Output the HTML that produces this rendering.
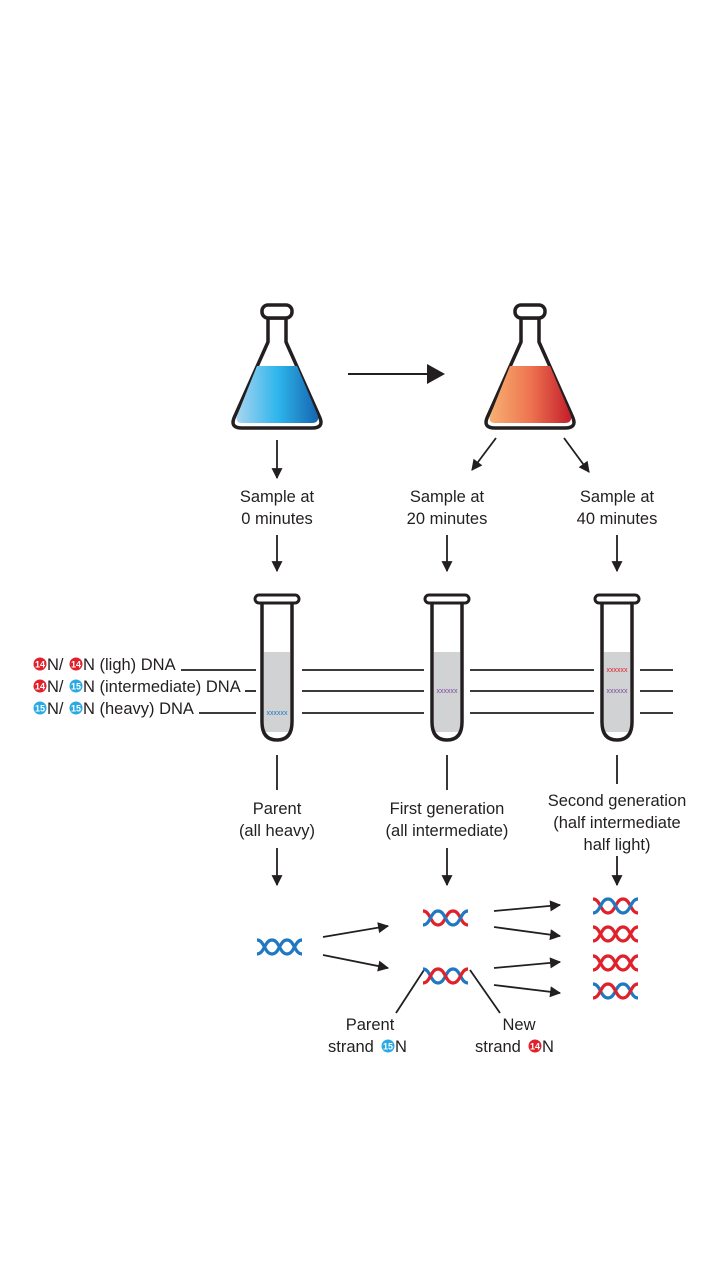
<!DOCTYPE html>
<html><head><meta charset="utf-8"><style>
html,body{margin:0;padding:0;background:#fff}
svg{display:block}
text{font-family:"Liberation Sans",Arial,sans-serif;fill:#231f20}
</style></head><body>
<svg width="720" height="1280" viewBox="0 0 720 1280" xmlns="http://www.w3.org/2000/svg">
<defs>
<marker id="ah" viewBox="0 0 10 10" refX="9" refY="5" markerWidth="12" markerHeight="11" orient="auto" markerUnits="userSpaceOnUse"><path d="M0,0 L10,5 L0,10 z" fill="#231f20"/></marker>
<linearGradient id="gb" x1="0" x2="1"><stop offset="0" stop-color="#a8d4f0"/><stop offset=".5" stop-color="#2fb6ec"/><stop offset="1" stop-color="#1565b0"/></linearGradient>
<linearGradient id="go" x1="0" x2="1"><stop offset="0" stop-color="#f7b071"/><stop offset=".5" stop-color="#ee7451"/><stop offset="1" stop-color="#c41e2a"/></linearGradient>
<symbol id="sa" viewBox="0 0 45 18" overflow="visible"><path d="M0,2 C7.5,2 7.5,16 15,16 C22.5,16 22.5,2 30,2 C37.5,2 37.5,16 45,16" fill="none" stroke="currentColor" stroke-width="3.2"/></symbol>
<symbol id="sb" viewBox="0 0 45 18" overflow="visible"><path d="M0,16 C7.5,16 7.5,2 15,2 C22.5,2 22.5,16 30,16 C37.5,16 37.5,2 45,2" fill="none" stroke="currentColor" stroke-width="3.2"/></symbol>
</defs>

<g stroke="#231f20" stroke-width="3.5" stroke-linejoin="round">
<path d="M268,318 L268,342 L234,418 Q230,428 242,428 L312,428 Q324,428 320,418 L286,342 L286,318 Z" fill="#fff"/>
<rect x="262" y="305" width="30" height="13" rx="6" fill="#fff"/>
<path d="M521,318 L521,342 L487,418 Q483,428 495,428 L565,428 Q577,428 573,418 L539,342 L539,318 Z" fill="#fff"/>
<rect x="515" y="305" width="30" height="13" rx="6" fill="#fff"/>
</g>
<path d="M257,366 L297,366 L318,416 Q319,423 312,423 L242,423 Q235,423 237,416 Z" fill="url(#gb)"/>
<path d="M510,366 L550,366 L571,416 Q572,423 565,423 L495,423 Q488,423 490,416 Z" fill="url(#go)"/>

<g stroke="#231f20" stroke-width="1.8" fill="none" marker-end="url(#ah)">
<line x1="277" y1="440" x2="277" y2="478"/>
<line x1="496" y1="438" x2="472" y2="470"/>
<line x1="564" y1="438" x2="589" y2="472"/>
<line x1="277" y1="535" x2="277" y2="571"/>
<line x1="447" y1="535" x2="447" y2="571"/>
<line x1="617" y1="535" x2="617" y2="571"/>
<line x1="277" y1="848" x2="277" y2="885"/>
<line x1="447" y1="848" x2="447" y2="885"/>
<line x1="617" y1="856" x2="617" y2="885"/>
<line x1="323" y1="937" x2="388" y2="926"/>
<line x1="323" y1="955" x2="388" y2="968"/>
<line x1="494" y1="911" x2="560" y2="905"/>
<line x1="494" y1="927" x2="560" y2="936"/>
<line x1="494" y1="968" x2="560" y2="962"/>
<line x1="494" y1="985" x2="560" y2="993"/>
</g>
<line x1="348" y1="374" x2="428" y2="374" stroke="#231f20" stroke-width="2"/>
<path d="M427,364 L445,374 L427,384 Z" fill="#231f20"/>

<g font-size="16.5" text-anchor="middle">
<text x="277" y="502">Sample at</text><text x="277" y="524">0 minutes</text>
<text x="447" y="502">Sample at</text><text x="447" y="524">20 minutes</text>
<text x="617" y="502">Sample at</text><text x="617" y="524">40 minutes</text>
<text x="277" y="814">Parent</text><text x="277" y="836">(all heavy)</text>
<text x="447" y="814">First generation</text><text x="447" y="836">(all intermediate)</text>
<text x="617" y="806">Second generation</text><text x="617" y="828">(half intermediate</text><text x="617" y="850">half light)</text>
</g>

<g stroke="#231f20" stroke-width="1.8">
<line x1="181" y1="670" x2="256" y2="670"/><line x1="302" y1="670" x2="424" y2="670"/><line x1="470" y1="670" x2="594" y2="670"/><line x1="640" y1="670" x2="673" y2="670"/>
<line x1="245" y1="691" x2="256" y2="691"/><line x1="302" y1="691" x2="424" y2="691"/><line x1="470" y1="691" x2="594" y2="691"/><line x1="640" y1="691" x2="673" y2="691"/>
<line x1="199" y1="713" x2="256" y2="713"/><line x1="302" y1="713" x2="424" y2="713"/><line x1="470" y1="713" x2="594" y2="713"/><line x1="640" y1="713" x2="673" y2="713"/>
<line x1="277" y1="755" x2="277" y2="790"/><line x1="447" y1="755" x2="447" y2="790"/><line x1="617" y1="755" x2="617" y2="784"/>
<line x1="424" y1="970" x2="396" y2="1013"/><line x1="470" y1="970" x2="500" y2="1013"/>
</g>

<g>
<rect x="264" y="652" width="26" height="80" fill="#d1d2d4"/>
<path d="M262,603 L262,722 Q262,740 277,740 Q292,740 292,722 L292,603" fill="none" stroke="#231f20" stroke-width="3.5"/>
<rect x="255" y="595" width="44" height="8" rx="4" fill="#fff" stroke="#231f20" stroke-width="3"/>
<text x="277" y="715" font-size="7" text-anchor="middle" style="fill:#1f78c1">xxxxxx</text>
</g>
<g>
<rect x="434" y="652" width="26" height="80" fill="#d1d2d4"/>
<path d="M432,603 L432,722 Q432,740 447,740 Q462,740 462,722 L462,603" fill="none" stroke="#231f20" stroke-width="3.5"/>
<rect x="425" y="595" width="44" height="8" rx="4" fill="#fff" stroke="#231f20" stroke-width="3"/>
<text x="447" y="693" font-size="7" text-anchor="middle" style="fill:#7b4fa0">xxxxxx</text>
</g>
<g>
<rect x="604" y="652" width="26" height="80" fill="#d1d2d4"/>
<path d="M602,603 L602,722 Q602,740 617,740 Q632,740 632,722 L632,603" fill="none" stroke="#231f20" stroke-width="3.5"/>
<rect x="595" y="595" width="44" height="8" rx="4" fill="#fff" stroke="#231f20" stroke-width="3"/>
<text x="617" y="672" font-size="7" text-anchor="middle" style="fill:#e0202a">xxxxxx</text>
<text x="617" y="693" font-size="7" text-anchor="middle" style="fill:#7b4fa0">xxxxxx</text>
</g>

<g font-size="16.5">
<circle cx="40" cy="664" r="6.5" fill="#e0202a"/><text x="40" y="667.5" font-size="9" font-weight="bold" text-anchor="middle" style="fill:#fff">14</text>
<text x="47" y="670">N/</text>
<circle cx="76" cy="664" r="6.5" fill="#e0202a"/><text x="76" y="667.5" font-size="9" font-weight="bold" text-anchor="middle" style="fill:#fff">14</text>
<text x="83" y="670">N (ligh) DNA</text>
<circle cx="40" cy="686" r="6.5" fill="#e0202a"/><text x="40" y="689.5" font-size="9" font-weight="bold" text-anchor="middle" style="fill:#fff">14</text>
<text x="47" y="692">N/</text>
<circle cx="76" cy="686" r="6.5" fill="#29aae2"/><text x="76" y="689.5" font-size="9" font-weight="bold" text-anchor="middle" style="fill:#fff">15</text>
<text x="83" y="692">N (intermediate) DNA</text>
<circle cx="40" cy="708" r="6.5" fill="#29aae2"/><text x="40" y="711.5" font-size="9" font-weight="bold" text-anchor="middle" style="fill:#fff">15</text>
<text x="47" y="714">N/</text>
<circle cx="76" cy="708" r="6.5" fill="#29aae2"/><text x="76" y="711.5" font-size="9" font-weight="bold" text-anchor="middle" style="fill:#fff">15</text>
<text x="83" y="714">N (heavy) DNA</text>
</g>

<g>
<use href="#sa" x="257" y="938" width="45" height="18" color="#1f78c1"/><use href="#sb" x="257" y="938" width="45" height="18" color="#1f78c1"/>
<use href="#sa" x="423" y="909" width="45" height="18" color="#e0202a"/><use href="#sb" x="423" y="909" width="45" height="18" color="#1f78c1"/>
<use href="#sa" x="423" y="967" width="45" height="18" color="#1f78c1"/><use href="#sb" x="423" y="967" width="45" height="18" color="#e0202a"/>
<use href="#sa" x="593" y="897" width="45" height="18" color="#e0202a"/><use href="#sb" x="593" y="897" width="45" height="18" color="#1f78c1"/>
<use href="#sa" x="593" y="925" width="45" height="18" color="#e0202a"/><use href="#sb" x="593" y="925" width="45" height="18" color="#e0202a"/>
<use href="#sa" x="593" y="954" width="45" height="18" color="#e0202a"/><use href="#sb" x="593" y="954" width="45" height="18" color="#e0202a"/>
<use href="#sa" x="593" y="982" width="45" height="18" color="#1f78c1"/><use href="#sb" x="593" y="982" width="45" height="18" color="#e0202a"/>
</g>

<g font-size="16.5">
<text x="370" y="1030" text-anchor="middle">Parent</text>
<text x="328" y="1052">strand</text>
<circle cx="388" cy="1046" r="6.5" fill="#29aae2"/><text x="388" y="1049.5" font-size="9" font-weight="bold" text-anchor="middle" style="fill:#fff">15</text>
<text x="395" y="1052">N</text>
<text x="519" y="1030" text-anchor="middle">New</text>
<text x="475" y="1052">strand</text>
<circle cx="535" cy="1046" r="6.5" fill="#e0202a"/><text x="535" y="1049.5" font-size="9" font-weight="bold" text-anchor="middle" style="fill:#fff">14</text>
<text x="542" y="1052">N</text>
</g>
</svg>
</body></html>
